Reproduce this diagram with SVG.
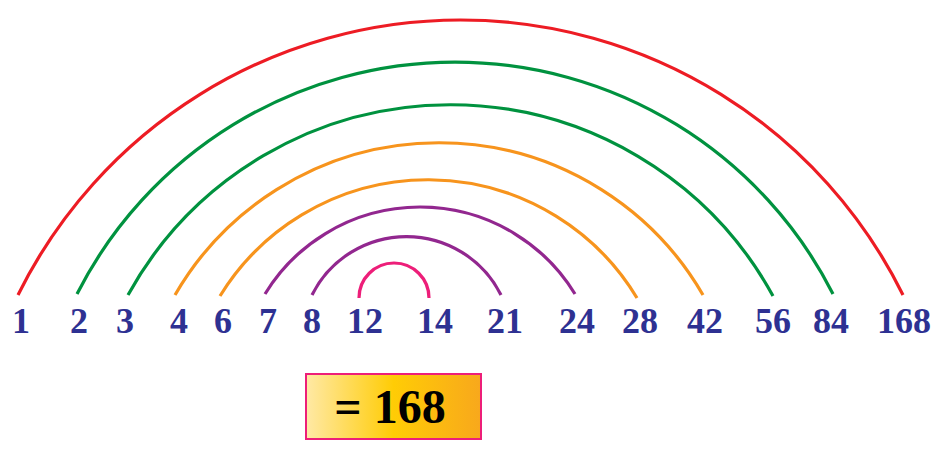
<svg xmlns="http://www.w3.org/2000/svg" width="943" height="457" viewBox="0 0 943 457">
  <style>
    .arc { fill: none; stroke-width: 3.2; stroke-linecap: butt; }
    .red { stroke: #ED1C24; }
    .green { stroke: #00923F; }
    .orange { stroke: #F7941D; }
    .purple { stroke: #92278F; }
    .pink { stroke: #ED1E79; }
    .num { font-family: "Liberation Serif", "Times New Roman", serif; font-weight: bold; font-size: 36px; fill: #2E3192; text-anchor: middle; }
    .total { font-family: "Liberation Serif", "Times New Roman", serif; font-weight: bold; font-size: 48px; fill: #000000; text-anchor: middle; }
  </style>
  <defs>
    <linearGradient id="boxGrad" x1="0" y1="0" x2="1" y2="0">
      <stop offset="0" stop-color="#FFE9A6"/>
      <stop offset="0.5" stop-color="#FFCC05"/>
      <stop offset="1" stop-color="#F8A81C"/>
    </linearGradient>
  </defs>
  <rect width="943" height="457" fill="#FFFFFF"/>
  <g id="connectors">
    <path class="arc red" d="M18 295 A493.5 493.5 0 0 1 903 295"/>
    <path class="arc green" d="M77 294 A424 424 0 0 1 833 294"/>
    <path class="arc green" d="M128 295 A368 368 0 0 1 773 296"/>
    <path class="arc orange" d="M175 295 A305 305 0 0 1 703 295"/>
    <path class="arc orange" d="M220 296 A244 244 0 0 1 637 298"/>
    <path class="arc purple" d="M265 294 A181.6 181.6 0 0 1 575 294"/>
    <path class="arc purple" d="M312 295 A105.6 105.6 0 0 1 501 295"/>
    <path class="arc pink" d="M359 298 A35 35 0 0 1 429 298"/>
  </g>
  <g id="n1"><text class="num" x="21" y="333">1</text></g>
  <g id="n2"><text class="num" x="79" y="333">2</text></g>
  <g id="n3"><text class="num" x="125" y="333">3</text></g>
  <g id="n4"><text class="num" x="179" y="333">4</text></g>
  <g id="n6"><text class="num" x="223" y="333">6</text></g>
  <g id="n7"><text class="num" x="268" y="333">7</text></g>
  <g id="n8"><text class="num" x="312" y="333">8</text></g>
  <g id="n12"><text class="num" x="365" y="333">12</text></g>
  <g id="n14"><text class="num" x="435" y="333">14</text></g>
  <g id="n21"><text class="num" x="505" y="333">21</text></g>
  <g id="n24"><text class="num" x="577" y="333">24</text></g>
  <g id="n28"><text class="num" x="640" y="333">28</text></g>
  <g id="n42"><text class="num" x="705" y="333">42</text></g>
  <g id="n56"><text class="num" x="773" y="333">56</text></g>
  <g id="n84"><text class="num" x="831" y="333">84</text></g>
  <g id="n168"><text class="num" x="904" y="333">168</text></g>
  <g id="total">
    <rect x="306" y="374" width="175" height="65" fill="url(#boxGrad)" stroke="#ED1E79" stroke-width="2"/>
    <text class="total" x="390" y="423">= 168</text>
  </g>
</svg>
